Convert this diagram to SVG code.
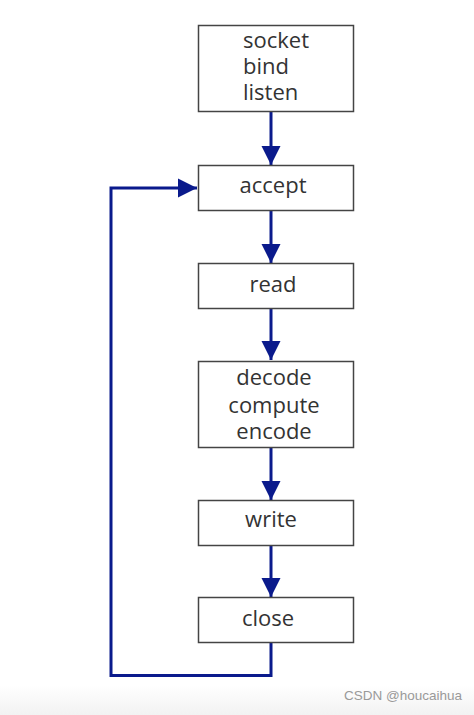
<svg xmlns="http://www.w3.org/2000/svg" width="474" height="715" viewBox="0 0 474 715">
<defs>
<style>
.box{fill:#fff;stroke:#444;stroke-width:1.5}
.t{font-family:"Open Sans","Noto Sans",sans-serif;font-size:22px;fill:#333}
.c{text-anchor:middle}
.ln{fill:none;stroke:#0a1a8c;stroke-width:3}
.wm{font-family:"Liberation Sans",Arial,sans-serif;font-size:13.5px;fill:#999}
</style>
<marker id="ah" viewBox="0 0 10 10" refX="10" refY="5" markerWidth="6.5" markerHeight="6.5" markerUnits="strokeWidth" orient="auto">
<path d="M0,0 L10,5 L0,10 Z" fill="#0a1a8c"/>
</marker>
<linearGradient id="bg" x1="0" y1="0" x2="0" y2="1">
<stop offset="0" stop-color="#fff"/>
<stop offset="1" stop-color="#f2f2f2"/>
</linearGradient>
</defs>
<rect width="474" height="715" fill="#fff"/>
<rect x="0" y="685" width="474" height="30" fill="url(#bg)"/>
<g id="connectors">
<path class="ln" d="M271,112 V165" marker-end="url(#ah)"/>
<path class="ln" d="M271,211 V263" marker-end="url(#ah)"/>
<path class="ln" d="M271,309 V360" marker-end="url(#ah)"/>
<path class="ln" d="M271,448 V500" marker-end="url(#ah)"/>
<path class="ln" d="M271,545 V597" marker-end="url(#ah)"/>
<path class="ln" d="M271,643 V675.5 H111 V188 H197" marker-end="url(#ah)"/>
</g>
<g id="n-socket"><rect class="box" x="198.5" y="25.5" width="155" height="86"/>
<text class="t" x="243" y="48">socket</text><text class="t" x="243" y="74">bind</text><text class="t" x="243" y="100">listen</text></g>
<g id="n-accept"><rect class="box" x="198.5" y="165.5" width="155" height="45"/>
<text class="t c" x="273" y="193">accept</text></g>
<g id="n-read"><rect class="box" x="198.5" y="263.5" width="155" height="45"/>
<text class="t c" x="273" y="292">read</text></g>
<g id="n-decode"><rect class="box" x="198.5" y="361.5" width="155" height="86"/>
<text class="t c" x="274" y="385">decode</text><text class="t c" x="274" y="413">compute</text><text class="t c" x="274" y="439">encode</text></g>
<g id="n-write"><rect class="box" x="198.5" y="500.5" width="155" height="45"/>
<text class="t c" x="271" y="527">write</text></g>
<g id="n-close"><rect class="box" x="198.5" y="597.5" width="155" height="45"/>
<text class="t c" x="268" y="626">close</text></g>
<text class="wm" x="462" y="700" text-anchor="end">CSDN @houcaihua</text>
</svg>
